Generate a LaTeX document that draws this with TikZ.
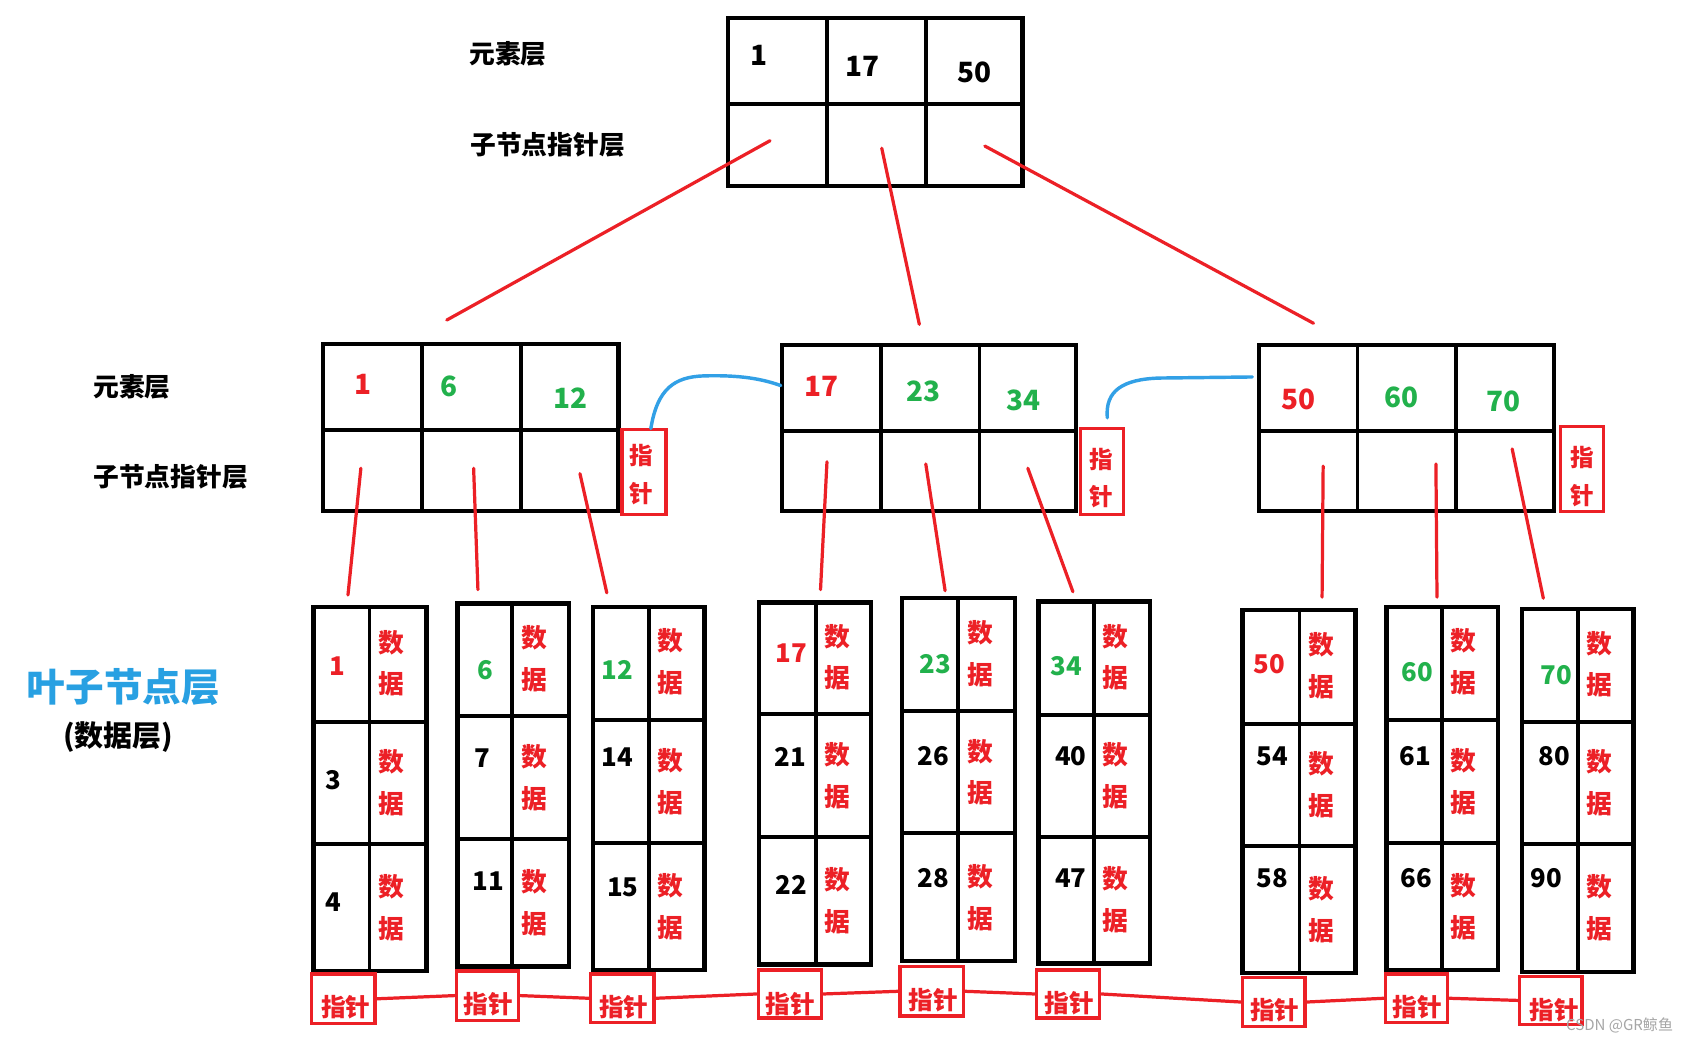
\documentclass[tikz,border=0pt]{standalone}
\usepackage{fontspec}
\setmainfont{Noto Sans CJK SC}
\usetikzlibrary{fit}
\definecolor{myred}{RGB}{236,32,38}
\definecolor{mygreen}{RGB}{34,177,76}
\definecolor{myblue}{RGB}{40,160,226}
\definecolor{lineblue}{RGB}{50,160,230}
\tikzset{
  blkbox/.style={draw=black, line width=2pt, inner sep=0pt},
  grid/.style={draw=black, line width=1.8pt},
  redbox/.style={draw=myred, line width=1.6pt, inner sep=0pt},
  redln/.style={draw=myred, line width=1.5pt, line cap=round},
  blueln/.style={draw=lineblue, line width=1.6pt, line cap=round},
  lbl/.style={font=\bfseries\fontsize{12}{14}\selectfont, inner sep=0pt},
  num/.style={font=\bfseries\fontsize{13}{15}\selectfont, inner sep=0pt},
  lnum/.style={font=\bfseries\fontsize{12}{14}\selectfont, inner sep=0pt},
  dat/.style={font=\bfseries\fontsize{12}{19.5}\selectfont, text=myred, align=center, inner sep=0pt},
  ptr/.style={font=\bfseries\fontsize{11}{17.5}\selectfont, text=myred, align=center, inner sep=0pt},
  bptr/.style={font=\bfseries\fontsize{11.5}{13}\selectfont, text=myred, inner sep=0pt},
}
\newcommand{\leafnode}[8]{%
  \node[blkbox, fit={(#2,#3) (#4,#5)}] (#1) {};
  \draw[grid] (#6,#3) -- (#6,#5) (#2,#7) -- (#4,#7) (#2,#8) -- (#4,#8);
  \path ({(#6+#4)/2-6},{(#3+#7)/2-1}) node[dat] (#1-d1) {数\\据};
  \path ({(#6+#4)/2-6},{(#7+#8)/2}) node[dat] (#1-d2) {数\\据};
  \path ({(#6+#4)/2-6},{(#8+#5)/2}) node[dat] (#1-d3) {数\\据};
}
\newcommand{\botptr}[7]{%
  \node[redbox, fit={(#2,#3) (#4,#5)}] (#1) {};
  \node[bptr] (#1t) at (#6,#7) {指针};
}
\begin{document}
\begin{tikzpicture}[x=0.5pt,y=-0.5pt]
\fill[white] (0,0) rectangle (1568,969);
\useasboundingbox (0,0) rectangle (1568,969);

% ---------- top node ----------
\node[blkbox, fit={(678,17) (952,173)}] (top) {};
\draw[grid] (678,97) -- (952,97) (770,17) -- (770,173) (862,17) -- (862,173);
\node[num] (top-a) at (707,52) {1};
\node[num] (top-b) at (803,62) {17};
\node[num] (top-c) at (907,67) {50};
\node[lbl] (tl1) at (473,50) {元素层};
\node[lbl] (tl2) at (510,135) {子节点指针层};

% ---------- middle nodes ----------
\node[blkbox, fit={(301,320) (576,476)}] (mA) {};
\draw[grid] (301,400) -- (576,400) (393,320) -- (393,476) (485,320) -- (485,476);
\node[num, text=myred] (mA-a) at (338,358) {1};
\node[num, text=mygreen] (mA-b) at (418,360) {6};
\node[num, text=mygreen] (mA-c) at (531,371) {12};

\node[blkbox, fit={(728,321) (1002,476)}] (mB) {};
\draw[grid] (728,401) -- (1002,401) (820,321) -- (820,476) (912,321) -- (912,476);
\node[num, text=myred] (mB-a) at (765,360) {17};
\node[num, text=mygreen] (mB-b) at (860,364) {23};
\node[num, text=mygreen] (mB-c) at (953,373) {34};

\node[blkbox, fit={(1172,321) (1447,476)}] (mC) {};
\draw[grid] (1172,401) -- (1447,401) (1264,321) -- (1264,476) (1356,321) -- (1356,476);
\node[num, text=myred] (mC-a) at (1209,372) {50};
\node[num, text=mygreen] (mC-b) at (1305,370) {60};
\node[num, text=mygreen] (mC-c) at (1400,374) {70};

\node[lbl] (ml1) at (123,360) {元素层};
\node[lbl] (ml2) at (159,444) {子节点指针层};

% middle pointer boxes
\node[redbox, fit={(579,400) (620,479)}] (pA) {};
\node[ptr] (pAt) at (597,442) {指\\针};
\node[redbox, fit={(1006,399) (1046,479)}] (pB) {};
\node[ptr] (pBt) at (1025,445) {指\\针};
\node[redbox, fit={(1453,397) (1493,476)}] (pC) {};
\node[ptr] (pCt) at (1473,444) {指\\针};

% blue links
\coordinate (bA1) at (606,399);
\coordinate (bA2) at (727,359);
\coordinate (bB1) at (1031,389);
\coordinate (bB2) at (1166,351);
\draw[blueln] (bA1) .. controls (612,362) and (628,351) .. (655,350) .. controls (690,349) and (710,353) .. (bA2);
\draw[blueln] (bB1) .. controls (1029,364) and (1045,353) .. (1080,352) -- (bB2);

% top -> middle
\coordinate (t1) at (717,131); \coordinate (e1) at (416,298);
\coordinate (t2) at (821,138); \coordinate (e2) at (856,302);
\coordinate (t3) at (917,136); \coordinate (e3) at (1223,301);
\draw[redln] (t1) -- (e1);
\draw[redln] (t2) -- (e2);
\draw[redln] (t3) -- (e3);

% ---------- leaves ----------
\leafnode{L1}{292}{565}{397}{904}{344}{672}{786}
\leafnode{L2}{426}{562}{530}{900}{477}{667}{781}
\leafnode{L3}{552}{565}{656}{903}{604}{670}{785}
\leafnode{L4}{707}{561}{811}{898}{760}{665}{779}
\leafnode{L5}{840}{557}{945}{895}{892}{662}{776}
\leafnode{L6}{967}{560}{1071}{897}{1019}{666}{779}
\leafnode{L7}{1157}{568}{1262}{906}{1210}{674}{788}
\leafnode{L8}{1291}{565}{1395}{903}{1343}{670}{785}
\leafnode{L9}{1417}{567}{1521}{905}{1469}{672}{786}

\node[lnum, text=myred] (L1-a) at (314,620) {1};
\node[lnum] (L1-b) at (310,726) {3};
\node[lnum] (L1-c) at (310,840) {4};
\node[lnum, text=mygreen] (L2-a) at (452,624) {6};
\node[lnum] (L2-b) at (449,706) {7};
\node[lnum] (L2-c) at (455,820) {11};
\node[lnum, text=mygreen] (L3-a) at (575,624) {12};
\node[lnum] (L3-b) at (575,705) {14};
\node[lnum] (L3-c) at (580,826) {15};
\node[lnum, text=myred] (L4-a) at (737,608) {17};
\node[lnum] (L4-b) at (736,705) {21};
\node[lnum] (L4-c) at (737,824) {22};
\node[lnum, text=mygreen] (L5-a) at (871,618) {23};
\node[lnum] (L5-b) at (869,704) {26};
\node[lnum] (L5-c) at (869,818) {28};
\node[lnum, text=mygreen] (L6-a) at (993,620) {34};
\node[lnum] (L6-b) at (997,704) {40};
\node[lnum] (L6-c) at (997,818) {47};
\node[lnum, text=myred] (L7-a) at (1182,618) {50};
\node[lnum] (L7-b) at (1185,704) {54};
\node[lnum] (L7-c) at (1185,818) {58};
\node[lnum, text=mygreen] (L8-a) at (1320,626) {60};
\node[lnum] (L8-b) at (1318,704) {61};
\node[lnum] (L8-c) at (1319,818) {66};
\node[lnum, text=mygreen] (L9-a) at (1449,629) {70};
\node[lnum] (L9-b) at (1447,704) {80};
\node[lnum] (L9-c) at (1440,818) {90};

% middle -> leaves
\coordinate (sA1) at (336,436); \coordinate (fA1) at (324,554);
\coordinate (sA2) at (441,436); \coordinate (fA2) at (445,549);
\coordinate (sA3) at (540,441); \coordinate (fA3) at (565,552);
\coordinate (sB1) at (770,430); \coordinate (fB1) at (764,549);
\coordinate (sB2) at (862,432); \coordinate (fB2) at (880,550);
\coordinate (sB3) at (957,436); \coordinate (fB3) at (999,551);
\coordinate (sC1) at (1232,434); \coordinate (fC1) at (1231,556);
\coordinate (sC2) at (1337,432); \coordinate (fC2) at (1338,556);
\coordinate (sC3) at (1408,418); \coordinate (fC3) at (1437,557);
\foreach \p in {A1,A2,A3,B1,B2,B3,C1,C2,C3}{\draw[redln] (s\p) -- (f\p);}

% ---------- bottom pointers ----------
\botptr{B1}{290}{907}{349}{953}{322}{938}
\botptr{B2}{425}{904}{483}{950}{455}{935}
\botptr{B3}{550}{907}{609}{952}{581}{938}
\botptr{B4}{706}{903}{765}{948}{736}{935}
\botptr{B5}{838}{900}{897}{946}{869}{931}
\botptr{B6}{965}{903}{1024}{948}{996}{934}
\botptr{B7}{1157}{910}{1215}{956}{1187}{941}
\botptr{B8}{1290}{907}{1348}{952}{1320}{938}
\botptr{B9}{1415}{909}{1473}{954}{1447}{941}
\draw[redln] (B1.east) -- (B2.west);
\draw[redln] (B2.east) -- (B3.west);
\draw[redln] (B3.east) -- (B4.west);
\draw[redln] (B4.east) -- (B5.west);
\draw[redln] (B5.east) -- (B6.west);
\draw[redln] (B6.east) -- (B7.west);
\draw[redln] (B7.east) -- (B8.west);
\draw[redln] (B8.east) -- (B9.west);

% ---------- leaf layer label ----------
\node[font=\bfseries\fontsize{18}{20}\selectfont, text=myblue, inner sep=0pt] (leafl) at (115,640) {叶子节点层};
\node[font=\bfseries\fontsize{13.5}{15}\selectfont, inner sep=0pt] (leafl2) at (110,686) {(数据层)};

\node[font=\fontsize{7}{8}\selectfont, text=gray!70, inner sep=0pt] (wm) at (1508,955) {CSDN @GR鲸鱼};
\end{tikzpicture}
\end{document}
